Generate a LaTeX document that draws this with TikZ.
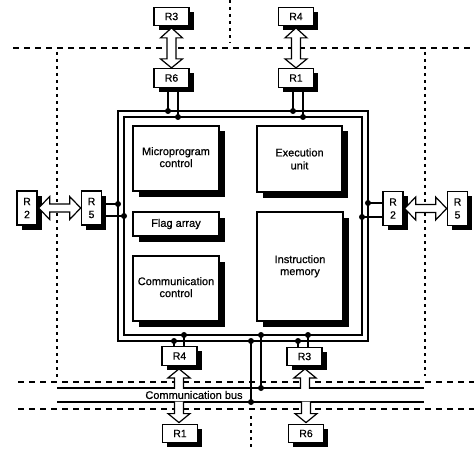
\documentclass[tikz,border=0pt]{standalone}
\usepackage{fontspec}
\setmainfont{Liberation Sans}[FakeBold=0.6]
\usetikzlibrary{shadows}
\begin{document}
\begin{tikzpicture}[x=1pt,y=-1pt,line width=1.3pt,
  rbox/.style={draw,fill=white,inner sep=0pt,minimum width=35pt,minimum height=18.5pt,
    font=\fontsize{10.5}{12}\selectfont,
    drop shadow={shadow xshift=4.5pt,shadow yshift=-4.5pt,fill=black,opacity=1}},
  vbox/.style={rbox,minimum width=20pt,minimum height=34pt,align=center,
    font=\fontsize{10.5}{13}\selectfont},
  blk/.style={draw,fill=white,inner sep=0pt,align=center,
    font=\fontsize{11}{13}\selectfont,
    drop shadow={shadow xshift=5.5pt,shadow yshift=-5.5pt,fill=black,opacity=1}},
  frame/.style={draw,inner sep=0pt,line width=1.3pt},
  wire/.style={line width=1.2pt},
  dot/.style={circle,fill=black,inner sep=0pt,minimum size=6pt},
  hollow/.style={draw,fill=white,line width=1.2pt,line join=miter},
  busline/.style={line width=1.4pt},
  sep/.style={dash pattern=on 6pt off 5pt,line width=1.3pt},
  vsep/.style={dash pattern=on 3pt off 4pt,line width=1.3pt}
]
\useasboundingbox (0,0) rectangle (474,468);

% double frame
\node[frame,minimum width=250pt,minimum height=230pt] (outer) at (243,226) {};
\node[frame,minimum width=238pt,minimum height=218pt] (inner) at (243,226) {};

% inner blocks
\node[blk,minimum width=86pt,minimum height=65pt] (mc) at (176,158.5) {\raisebox{2pt}{\begin{tabular}{@{}c@{}}Microprogram\\[-1pt]control\end{tabular}}};
\node[blk,minimum width=85pt,minimum height=66pt] (eu) at (299.5,159) {Execution\\unit};
\node[blk,minimum width=86pt,minimum height=24pt] (fa) at (176,224) {Flag array};
\node[blk,minimum width=86pt,minimum height=65pt] (cc) at (176,288.5) {\raisebox{2pt}{\begin{tabular}{@{}c@{}}Communication\\[-1pt]control\end{tabular}}};
\node[blk,minimum width=86pt,minimum height=109pt] (im) at (300,266.5) {\raisebox{-4pt}{\begin{tabular}{@{}c@{}}Instruction\\[-1pt]memory\end{tabular}}};

% registers
\node[rbox] (R3t) at (171.5,16.5) {R3};
\node[rbox] (R4t) at (296,16.5) {R4};
\node[rbox] (R6t) at (171.5,78) {R6};
\node[rbox] (R1t) at (296,78) {R1};
\node[vbox] (R2l) at (27,208) {R\\2};
\node[vbox] (R5l) at (91.5,208) {R\\5};
\node[vbox] (R2r) at (393,208.5) {R\\2};
\node[vbox] (R5r) at (457.5,208.5) {R\\5};
\node[rbox] (R4b) at (179.5,356) {R4};
\node[rbox] (R3b) at (304.5,356.5) {R3};
\node[rbox] (R1b) at (180,433.5) {R1};
\node[rbox] (R6b) at (306,433.5) {R6};

% dots
\node[dot] (dt1) at (168,111) {};
\node[dot] (dt2) at (178,117) {};
\node[dot] (dt3) at (293,111) {};
\node[dot] (dt4) at (303,117) {};
\node[dot] (dl1) at (118,204) {};
\node[dot] (dl2) at (124,216) {};
\node[dot] (dr1) at (368,203) {};
\node[dot] (dr2) at (362,217) {};
\node[dot] (db1) at (174,341) {};
\node[dot] (db2) at (184,335) {};
\node[dot] (db3) at (298,341) {};
\node[dot] (db4) at (308,335) {};
\node[dot] (db5) at (251,341) {};
\node[dot] (db6) at (261,335) {};

% bus
\coordinate (busAL) at (57,388);
\coordinate (busAR) at (424,388);
\coordinate (busBL) at (57,402);
\coordinate (busBR) at (424,402);
\draw[busline] (busAL) -- (busAR);
\draw[busline] (busBL) -- (busBR);
\node[font=\fontsize{11}{13}\selectfont] (bustext) at (194,395) {Communication bus};
\node[dot] (bb1) at (251,402) {};
\node[dot] (bb2) at (261,388) {};

% wires
\draw[wire] (R6t.south -| dt1) -- (dt1.center);
\draw[wire] (R6t.south -| dt2) -- (dt2.center);
\draw[wire] (R1t.south -| dt3) -- (dt3.center);
\draw[wire] (R1t.south -| dt4) -- (dt4.center);
\draw[wire] (R5l.east |- dl1) -- (dl1.center);
\draw[wire] (R5l.east |- dl2) -- (dl2.center);
\draw[wire] (R2r.west |- dr1) -- (dr1.center);
\draw[wire] (R2r.west |- dr2) -- (dr2.center);
\draw[wire] (R4b.north -| db1) -- (db1.center);
\draw[wire] (R4b.north -| db2) -- (db2.center);
\draw[wire] (R3b.north -| db3) -- (db3.center);
\draw[wire] (R3b.north -| db4) -- (db4.center);
\draw[wire] (db5.center) -- (bb1.center);
\draw[wire] (db6.center) -- (bb2.center);

% separators
\draw[sep] (13,48) -- (474,48);
\draw[sep] (18,382) -- (474,382);
\draw[sep] (18,409) -- (474,409);
\draw[vsep] (230,0) -- (230,43);
\draw[vsep] (57,52) -- (57,378);
\draw[vsep] (425,52) -- (425,376);
\draw[vsep] (251,416) -- (251,450);

% hollow arrows
\draw[hollow] (R3t.south) ++(0,1.5) -- ++(11,10) -- ++(-6.5,0) -- ++(0,21) -- ++(6.5,0)
  -- ++(-11,9) -- ++(-11,-9) -- ++(6.5,0) -- ++(0,-21) -- ++(-6.5,0) -- cycle;
\draw[hollow] (R4t.south) ++(0,1.5) -- ++(11,10) -- ++(-6.5,0) -- ++(0,21) -- ++(6.5,0)
  -- ++(-11,9) -- ++(-11,-9) -- ++(6.5,0) -- ++(0,-21) -- ++(-6.5,0) -- cycle;
\draw[hollow] (R2l.east) ++(1,0) -- ++(11,-11.5) -- ++(0,7.5) -- ++(20,0) -- ++(0,-7.5)
  -- ++(11,11.5) -- ++(-11,11.5) -- ++(0,-7.5) -- ++(-20,0) -- ++(0,7.5) -- cycle;
\draw[hollow] (R2r.east) ++(1,0) -- ++(11,-11.5) -- ++(0,7.5) -- ++(20,0) -- ++(0,-7.5)
  -- ++(11,11.5) -- ++(-11,11.5) -- ++(0,-7.5) -- ++(-20,0) -- ++(0,7.5) -- cycle;
\draw[hollow] (R4b.south -| busAL) ++(122,0) ++(-4.5,23) -- ++(0,-11) -- ++(-6.5,0)
  -- ++(11,-9) -- ++(11,9) -- ++(-6.5,0) -- ++(0,11);
\draw[hollow] (R3b.south -| busAL) ++(248,0) ++(-4.5,22.5) -- ++(0,-11) -- ++(-6.5,0)
  -- ++(11,-9) -- ++(11,9) -- ++(-6.5,0) -- ++(0,11);
\draw[hollow] (R1b.north -| busAL) ++(122,0) ++(-4.5,-22) -- ++(0,12) -- ++(-6.5,0)
  -- ++(11,9) -- ++(11,-9) -- ++(-6.5,0) -- ++(0,-12);
\draw[hollow] (R6b.north -| busAL) ++(249,0) ++(-4.5,-22) -- ++(0,12) -- ++(-6.5,0)
  -- ++(11,9) -- ++(11,-9) -- ++(-6.5,0) -- ++(0,-12);
\end{tikzpicture}
\end{document}
